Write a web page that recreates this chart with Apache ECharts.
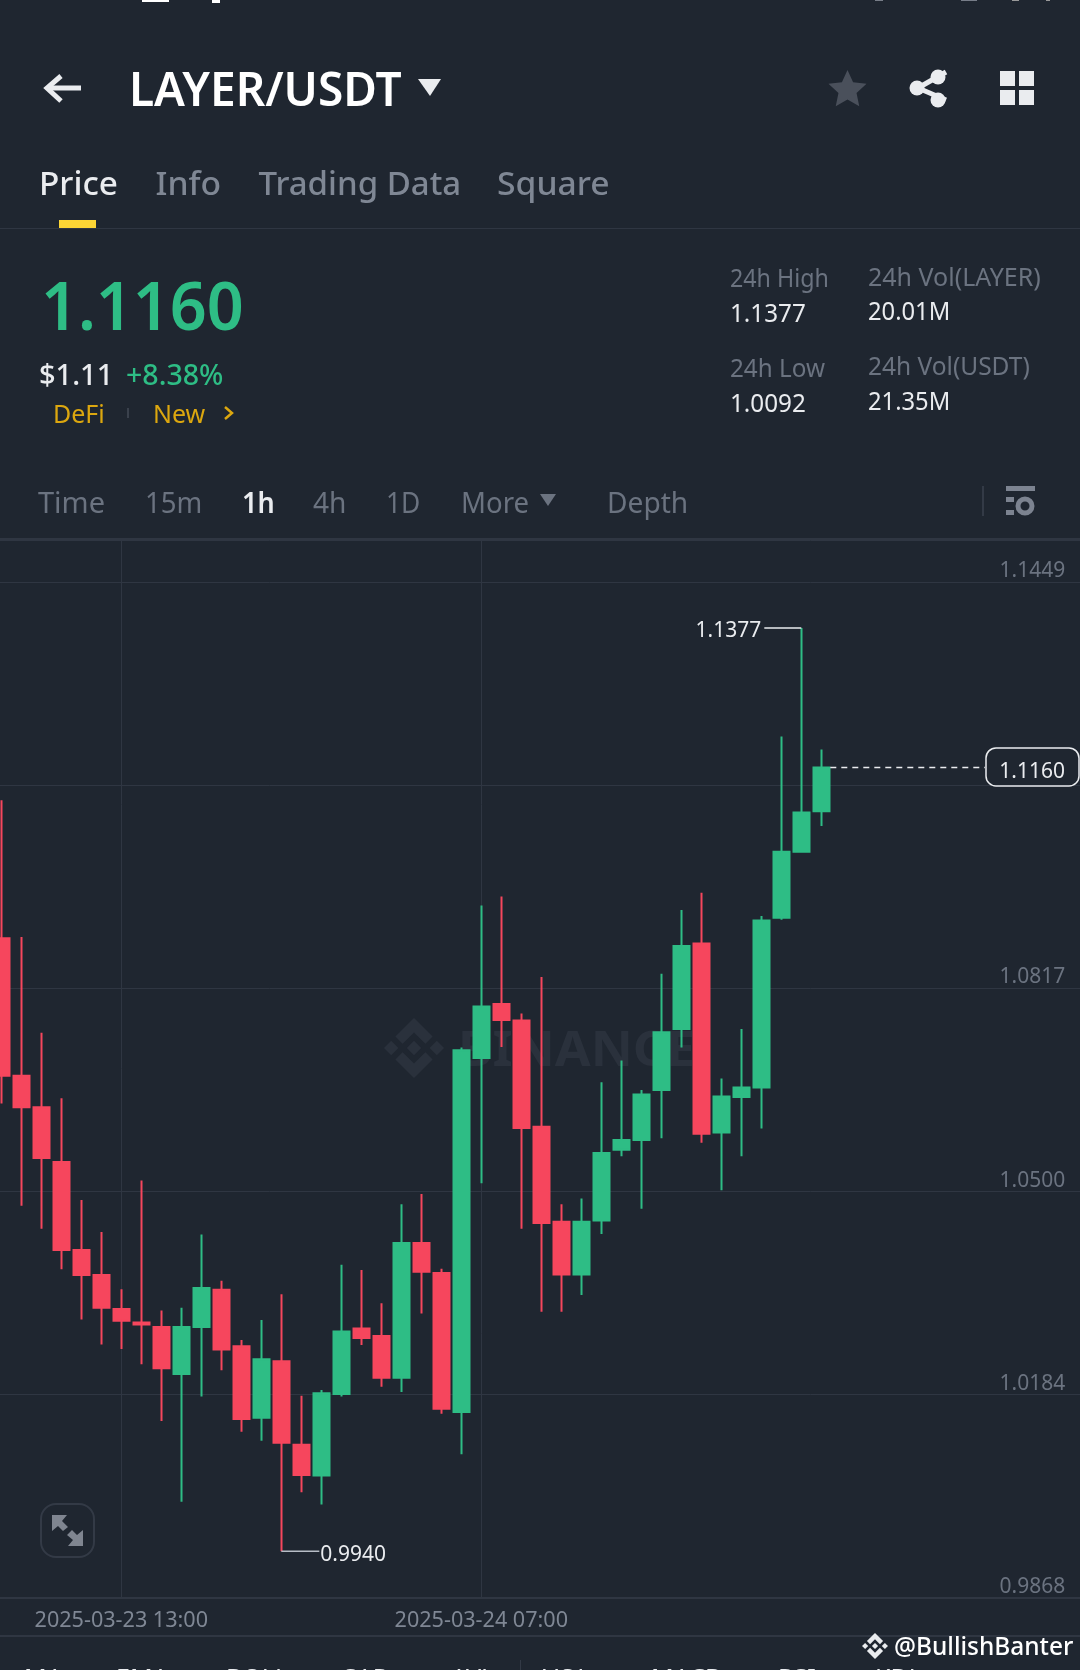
<!DOCTYPE html>
<html lang="en">
<head>
  <meta charset="UTF-8">
  <title>LAYER/USDT</title>
  <script src="https://cdn.jsdelivr.net/npm/echarts@6/dist/echarts.min.js"></script>
  <style>
    html, body { margin: 0; padding: 0; background-color: #1f2630; }
    #chart { width: 1080px; height: 1670px; }
  </style>
</head>
<body>
  <div id="chart"></div>

  <script>
    // hourly candles
    const categories = [
      '2025-03-23 07:00', '2025-03-23 08:00', '2025-03-23 09:00', '2025-03-23 10:00', '2025-03-23 11:00',
      '2025-03-23 12:00', '2025-03-23 13:00', '2025-03-23 14:00', '2025-03-23 15:00', '2025-03-23 16:00',
      '2025-03-23 17:00', '2025-03-23 18:00', '2025-03-23 19:00', '2025-03-23 20:00', '2025-03-23 21:00',
      '2025-03-23 22:00', '2025-03-23 23:00', '2025-03-24 00:00', '2025-03-24 01:00', '2025-03-24 02:00',
      '2025-03-24 03:00', '2025-03-24 04:00', '2025-03-24 05:00', '2025-03-24 06:00', '2025-03-24 07:00',
      '2025-03-24 08:00', '2025-03-24 09:00', '2025-03-24 10:00', '2025-03-24 11:00', '2025-03-24 12:00',
      '2025-03-24 13:00', '2025-03-24 14:00', '2025-03-24 15:00', '2025-03-24 16:00', '2025-03-24 17:00',
      '2025-03-24 18:00', '2025-03-24 19:00', '2025-03-24 20:00', '2025-03-24 21:00', '2025-03-24 22:00',
      '2025-03-24 23:00', '2025-03-25 00:00', '2025-03-25 01:00', '2025-03-25 02:00', '2025-03-25 03:00',
      '2025-03-25 04:00', '2025-03-25 05:00', '2025-03-25 06:00', '2025-03-25 07:00', '2025-03-25 08:00',
      '2025-03-25 09:00', '2025-03-25 10:00', '2025-03-25 11:00', '2025-03-25 12:00', '2025-03-25 13:00'
    ];
    const labelledHours = ['2025-03-23 13:00', '2025-03-24 07:00'];

    const opens = [
      1.0894, 1.0680, 1.0631, 1.0546, 1.0409, 1.0370, 1.0317, 1.0296, 1.0289, 1.0216, 1.0289, 1.0347, 1.0259, 1.0148,
      1.0236, 1.0106, 1.0058, 1.0185, 1.0287, 1.0275, 1.0210, 1.0420, 1.0373, 1.0157, 1.0708, 1.0792, 1.0766, 1.0601,
      1.0453, 1.0371, 1.0455, 1.0565, 1.0580, 1.0658, 1.0753, 1.0886, 1.0592, 1.0647, 1.0662, 1.0926, 1.1029, 1.1092
    ];
    const closes = [
      1.0680, 1.0631, 1.0552, 1.0409, 1.0370, 1.0319, 1.0299, 1.0293, 1.0225, 1.0289, 1.0350, 1.0254, 1.0146, 1.0239,
      1.0109, 1.0059, 1.0186, 1.0282, 1.0272, 1.0210, 1.0420, 1.0375, 1.0162, 1.0720, 1.0788, 1.0767, 1.0599, 1.0451,
      1.0371, 1.0453, 1.0560, 1.0580, 1.0651, 1.0748, 1.0882, 1.0590, 1.0648, 1.0662, 1.0922, 1.1029, 1.1090, 1.1160
    ];
    const lows = [
      1.0637, 1.0478, 1.0442, 1.0379, 1.0301, 1.0262, 1.0255, 1.0231, 1.0143, 1.0017, 1.0181, 1.0222, 1.0126, 1.0112,
      0.9940, 1.0032, 1.0013, 1.0181, 1.0261, 1.0196, 1.0188, 1.0310, 1.0154, 1.0091, 1.0513, 1.0725, 1.0442, 1.0313,
      1.0313, 1.0339, 1.0434, 1.0555, 1.0473, 1.0583, 1.0724, 1.0576, 1.0502, 1.0555, 1.0598, 1.0923, 1.1029, 1.1069
    ];
    const highs = [
      1.1109, 1.0896, 1.0747, 1.0645, 1.0487, 1.0437, 1.0348, 1.0517, 1.0315, 1.0319, 1.0433, 1.0361, 1.0269, 1.0300,
      1.0340, 1.0182, 1.0191, 1.0386, 1.0378, 1.0326, 1.0480, 1.0496, 1.0380, 1.0724, 1.0945, 1.0959, 1.0777, 1.0834,
      1.0480, 1.0489, 1.0670, 1.0704, 1.0658, 1.0839, 1.0938, 1.0965, 1.0676, 1.0753, 1.0929, 1.1208, 1.1377, 1.1188
    ];

    const gridValues = [0.9868, 1.0184, 1.0500, 1.0817, 1.1133, 1.1449, 1.1514];
    const priceLabels = [0.9868, 1.0184, 1.0500, 1.0817, 1.1449];
    const lastPrice = 1.1160;
    const highMark = { index: 40, value: 1.1377 };
    const lowMark = { index: 14, value: 0.9940 };

    const BG = '#1f2630';
    const GRID = '#2f3642';
    const UP = '#2ebd85';
    const DOWN = '#f6465d';
    const WHITE = '#eaecef';
    const GREY = '#7f8794';
    const DIM = '#6b7380';
    const GOLD = '#dca70f';
    const FONT = '"Noto Sans", sans-serif';

    // sx squeezes the text sideways, the original font is narrower than Noto Sans
    function txt(x, y, text, size, fill, weight, align, sx) {
      return {
        type: 'text', x: x, y: y, z: 10, scaleX: sx || 1,
        style: {
          text: text, fill: fill,
          font: (weight || 400) + ' ' + size + 'px ' + FONT,
          align: align || 'left', verticalAlign: 'middle'
        }
      };
    }
    function rect(x, y, w, h, fill, r) {
      return { type: 'rect', z: 10, shape: { x: x, y: y, width: w, height: h, r: r || 0 }, style: { fill: fill } };
    }
    function poly(points, fill, z) {
      return { type: 'polygon', z: z || 10, shape: { points: points }, style: { fill: fill } };
    }
    function line(x1, y1, x2, y2, stroke, width, dash) {
      return {
        type: 'line', z: 10,
        shape: { x1: x1, y1: y1, x2: x2, y2: y2 },
        style: { stroke: stroke, lineWidth: width || 1, lineDash: dash || null }
      };
    }
    function circle(cx, cy, r, fill) {
      return { type: 'circle', z: 10, shape: { cx: cx, cy: cy, r: r }, style: { fill: fill } };
    }

    // binance diamond logo, built from five pieces
    function logo(cx, cy, sx, sy, fill, z) {
      const p = pts => pts.map(q => [cx + q[0] * sx, cy + q[1] * sy]);
      const dia = (x, y, h) => p([[x, y - h], [x + h, y], [x, y + h], [x - h, y]]);
      return [
        poly(p([[0, -1], [0.62, -0.38], [0.38, -0.14], [0, -0.52], [-0.38, -0.14], [-0.62, -0.38]]), fill, z),
        poly(p([[0, 1], [0.62, 0.38], [0.38, 0.14], [0, 0.52], [-0.38, 0.14], [-0.62, 0.38]]), fill, z),
        poly(dia(0, 0, 0.24), fill, z),
        poly(dia(-0.76, 0, 0.24), fill, z),
        poly(dia(0.76, 0, 0.24), fill, z)
      ];
    }

    function headerGraphics() {
      const star = [];
      for (let i = 0; i < 10; i++) {
        const r = i % 2 ? 9.5 : 20;
        const a = -Math.PI / 2 + i * Math.PI / 5;
        star.push([847.5 + r * Math.cos(a), 90 + r * Math.sin(a)]);
      }
      return [
        // status bar leftovers at the very top
        rect(142, 0, 27, 2, '#ffffff'), rect(212, 0, 8, 3, '#ffffff'),
        rect(875, 0, 8, 1, '#777d88'), rect(961, 0, 16, 1, '#777d88'), rect(1012, 0, 7, 1, '#999'), rect(1046, 0, 4, 1, '#999'),

        // top bar
        rect(48, 85.5, 33, 5, WHITE),
        { type: 'polyline', z: 10, shape: { points: [[61, 76], [47, 88], [61, 101]] }, style: { stroke: WHITE, lineWidth: 5, fill: 'none' } },
        txt(129, 93, 'LAYER/USDT', 46, '#ffffff', 600),
        poly([[418, 79], [441, 79], [430, 96]], WHITE),
        poly(star, '#4a505b'),
        line(918, 88, 946, 72, WHITE, 5), line(918, 88, 946, 100, WHITE, 5),
        circle(917, 88, 7.5, WHITE), circle(938, 77, 7.5, WHITE), circle(938, 100, 7.5, WHITE),
        rect(1000, 71, 15, 15, WHITE), rect(1019, 71, 15, 15, WHITE),
        rect(1000, 90, 15, 15, WHITE), rect(1019, 90, 15, 15, WHITE),

        // tabs
        txt(39, 186, 'Price', 33, WHITE, 500, 'left', 1.01),
        txt(155.5, 186, 'Info', 33, GREY, 500, 'left', 1.02),
        txt(258.5, 186, 'Trading Data', 33, GREY, 500),
        txt(497, 186, 'Square', 33, GREY, 500, 'left', 1.02),
        rect(59, 220, 37, 8, '#fcd535'),
        rect(0, 228, 1080, 1, GRID),

        // price block
        txt(41, 311, '1.1160', 66, UP, 600, 'left', 0.98),
        txt(39, 377, '$1.11', 29, WHITE, 500),
        txt(126, 377, '+8.38%', 28, UP, 500, 'left', 1.02),
        txt(53, 416, 'DeFi', 25, GOLD),
        rect(127, 408, 2, 10, '#3a414c'),
        txt(153, 416, 'New', 25, GOLD),
        { type: 'polyline', z: 10, shape: { points: [[225, 407], [232, 413], [225, 419]] }, style: { stroke: GOLD, lineWidth: 2.5, fill: 'none' } },

        txt(730, 280, '24h High', 25, DIM, 400, 'left', 0.93),
        txt(730, 315, '1.1377', 25, WHITE, 400, 'left', 0.97),
        txt(730, 370, '24h Low', 25, DIM, 400, 'left', 0.97),
        txt(730, 405, '1.0092', 25, WHITE, 400, 'left', 0.97),
        txt(868, 279, '24h Vol(LAYER)', 25, DIM),
        txt(868, 313, '20.01M', 25, WHITE, 400, 'left', 0.95),
        txt(868, 368, '24h Vol(USDT)', 25, DIM, 400, 'left', 0.98),
        txt(868, 403, '21.35M', 25, WHITE, 400, 'left', 0.95),

        // interval row
        txt(38, 505, 'Time', 29, DIM),
        txt(145, 505, '15m', 29, DIM, 400, 'left', 0.95),
        txt(242, 505, '1h', 29, WHITE, 600, 'left', 0.93),
        txt(313, 505, '4h', 29, DIM, 400, 'left', 0.97),
        txt(386, 505, '1D', 29, DIM, 400, 'left', 0.91),
        txt(461, 505, 'More', 29, DIM, 400, 'left', 0.95),
        poly([[540, 494], [556, 494], [548, 506]], DIM),
        txt(607, 505, 'Depth', 29, DIM, 400, 'left', 0.97),
        rect(982, 486, 2, 30, '#333a46'),
        rect(1006, 486, 29, 5, '#7c8390'),
        rect(1006, 497, 8, 5, '#7c8390'), rect(1006, 510, 8, 5, '#7c8390'),
        { type: 'circle', z: 10, shape: { cx: 1025, cy: 506, r: 7 }, style: { fill: 'none', stroke: '#7c8390', lineWidth: 5 } },
        rect(0, 538, 1080, 2, GRID),

        // expand button
        { type: 'rect', z: 10, shape: { x: 41, y: 1504, width: 53, height: 53, r: 15 }, style: { fill: 'none', stroke: '#333a46', lineWidth: 2 } },
        poly([[52, 1515], [67, 1515], [62, 1521], [68, 1527], [63, 1531], [58, 1526], [52, 1531]], '#7f8590'),
        poly([[83, 1546], [68, 1546], [73, 1540], [67, 1535], [72, 1530], [77, 1535], [83, 1530]], '#7f8590'),

        // footer
        rect(0, 1635, 1080, 2, GRID),
        txt(24, 1680, 'MA', 25, WHITE), txt(116, 1680, 'EMA', 25, WHITE), txt(226, 1680, 'BOLL', 25, WHITE),
        txt(343, 1680, 'SAR', 25, WHITE), txt(451, 1680, 'AVL', 25, WHITE),
        rect(520, 1660, 1, 10, '#333a46'),
        txt(543, 1680, 'VOL', 25, WHITE), txt(651, 1680, 'MACD', 25, WHITE),
        txt(778, 1680, 'RSI', 25, WHITE), txt(875, 1680, 'KDJ', 25, WHITE),
        txt(894, 1648, '@BullishBanter', 26, '#ffffff', 500, 'left', 0.94)
      ]
        .concat(logo(875, 1646, 13, 13, '#eaecef'))
        .concat(logo(414, 1048, 30, 30, '#2a313c', 1))
        .concat([{
          type: 'text', x: 458, y: 1052, z: 1, scaleX: 1.08,
          style: { text: 'BINANCE', fill: '#2a313c', font: '700 48px ' + FONT, verticalAlign: 'middle', align: 'left' }
        }]);
    }

    // annotations that follow the data
    function markGraphics(chart) {
      const toPx = (i, v) => chart.convertToPixel({ gridIndex: 0 }, [i, v]);
      const hi = toPx(highMark.index, highMark.value);
      const lo = toPx(lowMark.index, lowMark.value);
      const tagY = toPx(41, lastPrice);
      return [
        line(hi[0], hi[1], hi[0] - 37, hi[1], WHITE, 1.5),
        txt(hi[0] - 40, hi[1] + 3, highMark.value.toFixed(4), 21, WHITE, 400, 'right'),
        line(lo[0], lo[1], lo[0] + 38, lo[1], '#b7bdc6', 1.5),
        txt(lo[0] + 39, lo[1] + 4, lowMark.value.toFixed(4), 21, WHITE),
        line(tagY[0] + 9, tagY[1], 985, tagY[1], WHITE, 1.5, [6, 5]),
        {
          type: 'rect', z: 10,
          shape: { x: 986, y: tagY[1] - 19.5, width: 93, height: 38, r: 10 },
          style: { fill: BG, stroke: WHITE, lineWidth: 1.5 }
        },
        txt(1065, tagY[1] + 5, lastPrice.toFixed(4), 21, WHITE, 400, 'right')
      ];
    }

    const chart = echarts.init(document.getElementById('chart'), null, { renderer: 'canvas' });
    const isLabelled = (i) => labelledHours.indexOf(categories[i]) >= 0;

    chart.setOption({
      animation: false,
      backgroundColor: BG,
      grid: { left: -8.7, width: 1100, top: 540, height: 1057.6, containLabel: false, outerBoundsMode: 'none' },
      xAxis: {
        type: 'category',
        data: categories,
        axisLine: { lineStyle: { color: GRID, width: 2 } },
        axisTick: { show: false },
        axisLabel: {
          interval: isLabelled,
          color: GREY,
          fontFamily: FONT,
          fontSize: 21.6,
          margin: 12,
          formatter: (v) => v
        },
        splitLine: { show: true, interval: isLabelled, alignWithLabel: true, lineStyle: { color: GRID, width: 1 } }
      },
      yAxis: {
        type: 'value',
        position: 'right',
        min: 0.9868,
        max: 1.1514,
        axisLine: { show: false },
        axisTick: { show: false, customValues: gridValues },
        axisLabel: {
          customValues: priceLabels,
          inside: true,
          margin: 26,
          color: DIM,
          fontFamily: FONT,
          fontSize: 21,
          verticalAlign: 'bottom',
          formatter: (v) => v.toFixed(4)
        },
        splitLine: { show: true, lineStyle: { color: GRID, width: 1 } }
      },
      series: [{
        type: 'candlestick',
        barWidth: 16,
        itemStyle: { color: UP, color0: DOWN, borderColor: UP, borderColor0: DOWN, borderWidth: 2 },
        data: opens.map((o, i) => [o, closes[i], lows[i], highs[i]])
      }]
    });

    chart.setOption({ graphic: { elements: headerGraphics().concat(markGraphics(chart)) } });
  </script>
</body>
</html>
